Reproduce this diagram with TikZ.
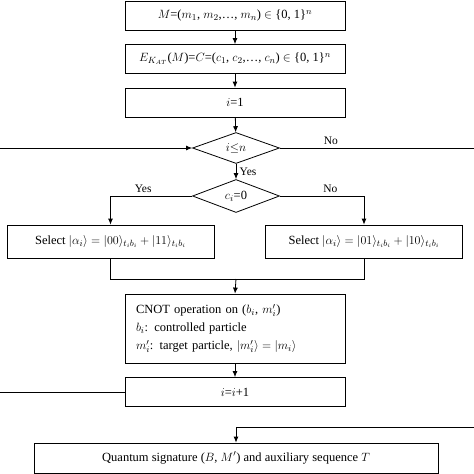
\documentclass[tikz,border=0pt]{standalone}
\usepackage{amsmath}
\usepackage{amssymb}
\usepackage{fontspec}
\setmainfont{Liberation Serif}
\usepackage{tikz}
\usetikzlibrary{shapes.geometric,arrows.meta}

\tikzset{
  box/.style={draw, line width=0.8pt, minimum width=220pt, minimum height=29pt, inner sep=2pt},
  decision/.style={draw, diamond, line width=0.8pt, inner sep=0pt, minimum width=87pt, minimum height=31pt},
  arr/.style={-{Latex[length=6pt,width=5pt]}, line width=0.8pt},
  line/.style={line width=0.8pt},
  tag/.style={font=\fontsize{11.5}{13}\selectfont}
}

\begin{document}
\begin{tikzpicture}[x=1pt,y=-1pt,font=\fontsize{12.5}{14}\selectfont]
\clip (0,0) rectangle (474,474);
% Boxes of the main column
\node[box] (msg) at (235,15.5) {$M$=($m_1$, $m_2$,\dots, $m_n$) $\in$ \{0, 1\}$^n$};
\node[box] (enc) at (235,59) {$E_{K_{AT}}$($M$)=$C$=($c_1$, $c_2$,\dots, $c_n$) $\in$ \{0, 1\}$^n$};
\node[box] (init) at (235,102.5) {$i$=1};
% Decisions
\node[decision] (test) at (236,148) {$i{\leq}n$};
\node[decision, minimum height=33pt] (bit) at (236,196) {$c_i$=0};
% The two selections
\node[box, minimum width=207pt, minimum height=33pt] (selA) at (110.5,241.5) {Select $|\alpha_i\rangle = |00\rangle_{t_ib_i} + |11\rangle_{t_ib_i}$};
\node[box, minimum width=197pt, minimum height=33pt] (selB) at (364,241.5) {Select $|\alpha_i\rangle = |01\rangle_{t_ib_i} + |10\rangle_{t_ib_i}$};
\coordinate (join) at (236,279);
% CNOT step and counter
\node[box, minimum height=69pt, inner xsep=11pt, text width=198pt, align=left] (cnot) at (235,328.5) {CNOT operation on ($b_i$, $m_i'$)\\[4pt] $b_i$: controlled particle\\[4pt] $m_i'$: target particle, $|m_i'\rangle = |m_i\rangle$};
\node[box] (inc) at (235,392) {$i$=$i$+1};
% Output
\node[box, minimum width=404pt, minimum height=30pt] (out) at (236,458) {Quantum signature ($B$, $M'$) and auxiliary sequence $T$};
% Connectors
\draw[arr] (msg) -- (enc);
\draw[arr] (enc) -- (init);
\draw[arr] (init) -- (test);
\draw[arr] (test) -- node[right, tag] {Yes} (bit);
\draw[arr] (bit.west) -| node[pos=0.3, above, tag] {Yes} (selA.north);
\draw[arr] (bit.east) -| node[pos=0.3, above, tag] {No} (selB.north);
\draw[line] (selA.south) |- (join);
\draw[line] (selB.south) |- (join);
\draw[arr] (join) -- (cnot.north);
\draw[arr] (cnot) -- (inc);
\draw[arr] (inc.west) -- (-10,392) |- (test.west);
\draw[arr] (test.east) -- node[pos=0.25, above, tag] {No} (484,148) -- (484,427) -| (out.north);
\end{tikzpicture}
\end{document}
